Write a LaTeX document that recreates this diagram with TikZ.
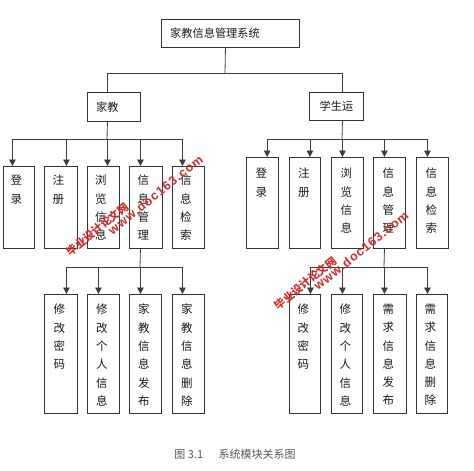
\documentclass[tikz,border=0pt]{standalone}
\usepackage{fontspec}
\setmainfont{Noto Sans CJK SC}
\newfontfamily\wmlatin{Liberation Sans}
\usetikzlibrary{arrows.meta}
\definecolor{boxc}{HTML}{333333}
\definecolor{linec}{HTML}{3C3C3C}
\definecolor{wmred}{HTML}{D42A2A}
\definecolor{capc}{HTML}{555555}
\newcommand{\mkbox}[5]{\node[box, minimum width={#4pt-#2pt}, minimum height={#5pt-#3pt}] (#1) at (#2,#3) {};}
\begin{document}
\begin{tikzpicture}[x=1pt,y=-1pt,
  box/.style={draw=boxc, line width=0.9pt, inner sep=0pt, anchor=north west},
  vt/.style={anchor=north, inner sep=0pt, align=center, font=\fontsize{11.5}{18.3}\selectfont, text=black!90},
  ht/.style={inner sep=0pt, font=\fontsize{11.2}{13}\selectfont, text=black!90},
  conn/.style={draw=linec, line width=0.8pt},
  arr/.style={conn, -{Triangle[length=6.5pt,width=6.5pt]}},
  wmcn/.style={text=wmred, font=\fontsize{10.8}{12}\selectfont\bfseries, rotate=39, inner sep=0pt},
  wmen/.style={text=wmred, font=\wmlatin\bfseries\fontsize{12.5}{14}\selectfont\addfontfeatures{LetterSpace=8}, rotate=39, inner sep=0pt},
]
\useasboundingbox[fill=white] (0,0) rectangle (474,471);

% ---- boxes
\mkbox{S}{161}{19}{299}{47}
\mkbox{JJ}{87}{92}{140}{121}
\mkbox{XS}{309}{92}{363}{120}

\mkbox{L1}{3}{166}{34}{248}
\mkbox{L2}{44}{166}{77}{248}
\mkbox{L3}{87}{166}{119}{248}
\mkbox{L4}{129}{166}{162}{248}
\mkbox{L5}{172}{166}{204}{248}

\mkbox{R1}{246}{157}{278}{248}
\mkbox{R2}{289}{157}{320}{248}
\mkbox{R3}{331}{157}{363}{248}
\mkbox{R4}{373}{157}{405}{248}
\mkbox{R5}{416}{157}{448}{248}

\mkbox{LB1}{44}{294}{77}{413}
\mkbox{LB2}{87}{294}{119}{413}
\mkbox{LB3}{129}{294}{161}{413}
\mkbox{LB4}{172}{294}{204}{413}

\mkbox{RB1}{289}{294}{320}{413}
\mkbox{RB2}{331}{294}{362}{413}
\mkbox{RB3}{373}{294}{406}{413}
\mkbox{RB4}{416}{294}{447}{413}

% ---- texts
\node[ht, anchor=west] (St) at ([xshift=9pt]S.west) {家教信息管理系统};
\node[ht, anchor=west] (JJt) at ([xshift=9pt]JJ.west) {家教};
\node[ht] (XSt) at (XS.center) {学生运};

\node[vt] (L1t) at ([xshift=-2.5pt,yshift=-9pt]L1.north) {登\\录};
\node[vt] (L2t) at ([xshift=-2.5pt,yshift=-9pt]L2.north) {注\\册};
\node[vt] (L3t) at ([xshift=-2.5pt,yshift=-9pt]L3.north) {浏\\览\\信\\息};
\node[vt] (L4t) at ([xshift=-2.5pt,yshift=-9pt]L4.north) {信\\息\\管\\理};
\node[vt] (L5t) at ([xshift=-2.5pt,yshift=-9pt]L5.north) {信\\息\\检\\索};

\node[vt] (R1t) at ([xshift=-1pt,yshift=-11pt]R1.north) {登\\录};
\node[vt] (R2t) at ([xshift=-1pt,yshift=-11pt]R2.north) {注\\册};
\node[vt] (R3t) at ([xshift=-1pt,yshift=-11pt]R3.north) {浏\\览\\信\\息};
\node[vt] (R4t) at ([xshift=-1pt,yshift=-11pt]R4.north) {信\\息\\管\\理};
\node[vt] (R5t) at ([xshift=-1pt,yshift=-11pt]R5.north) {信\\息\\检\\索};

\node[vt] (LB1t) at ([xshift=-1.5pt,yshift=-10pt]LB1.north) {修\\改\\密\\码};
\node[vt] (LB2t) at ([xshift=-1.5pt,yshift=-10pt]LB2.north) {修\\改\\个\\人\\信\\息};
\node[vt] (LB3t) at ([xshift=-1.5pt,yshift=-10pt]LB3.north) {家\\教\\信\\息\\发\\布};
\node[vt] (LB4t) at ([xshift=-1.5pt,yshift=-10pt]LB4.north) {家\\教\\信\\息\\删\\除};

\node[vt] (RB1t) at ([xshift=-1.5pt,yshift=-10pt]RB1.north) {修\\改\\密\\码};
\node[vt] (RB2t) at ([xshift=-1.5pt,yshift=-10pt]RB2.north) {修\\改\\个\\人\\信\\息};
\node[vt] (RB3t) at ([xshift=-1.5pt,yshift=-10pt]RB3.north) {需\\求\\信\\息\\发\\布};
\node[vt] (RB4t) at ([xshift=-1.5pt,yshift=-10pt]RB4.north) {需\\求\\信\\息\\删\\除};

% ---- connectors
\coordinate (topbus) at (225,73);
\draw[conn] ([xshift=-5pt]S.south) -- (topbus);
\draw[conn] (topbus) -| ([xshift=-6.5pt]JJ.north);
\draw[conn] (topbus) -| ([xshift=6pt]XS.north);

\coordinate (lbus) at (107,139);
\draw[conn] ([xshift=-6.5pt]JJ.south) -- (lbus);
\draw[arr] (lbus) -| ([xshift=-6.5pt]L1.north);
\draw[arr] (lbus) -| ([xshift=5.5pt]L2.north);
\draw[arr] (lbus) -| ([xshift=4pt]L3.north);
\draw[arr] (lbus) -| ([xshift=-5.5pt]L4.north);
\draw[arr] (lbus) -| ([xshift=-6pt]L5.north);

\coordinate (rbus) at (342,139);
\draw[conn] ([xshift=6pt]XS.south) -- (rbus);
\draw[arr] (rbus) -| ([xshift=4.7pt]R1.north);
\draw[arr] (rbus) -| ([xshift=5pt]R2.north);
\draw[arr] (rbus) -| ([xshift=-5pt]R3.north);
\draw[arr] (rbus) -| ([xshift=-5pt]R4.north);
\draw[arr] (rbus) -| ([xshift=-5pt]R5.north);

\coordinate (lbbus) at (140,267);
\draw[conn] ([xshift=-5.5pt]L4.south) -- (lbbus);
\draw[arr] (lbbus) -| ([xshift=5.5pt]LB1.north);
\draw[arr] (lbbus) -| ([xshift=-5pt]LB2.north);
\draw[arr] (lbbus) -| ([xshift=-5pt]LB3.north);
\draw[arr] (lbbus) -| ([xshift=-6pt]LB4.north);

\coordinate (rbbus) at (384,267);
\draw[conn] ([xshift=-5pt]R4.south) -- (rbbus);
\draw[arr] (rbbus) -| ([xshift=5.5pt]RB1.north);
\draw[arr] (rbbus) -| ([xshift=-4.5pt]RB2.north);
\draw[arr] (rbbus) -| ([xshift=-5.5pt]RB3.north);
\draw[arr] (rbbus) -| ([xshift=-4.5pt]RB4.north);

% ---- watermarks
\node[wmcn] (wm1) at (97.5,229) {毕业设计论文网};
\node[wmen] (wm2) at (155.5,195) {www.doc163.com};
\node[wmcn] (wm3) at (305.5,283) {毕业设计论文网};
\node[wmen] (wm4) at (361,250.5) {www.doc163.com};

% ---- caption
\node[inner sep=0pt, text=capc, font=\fontsize{11}{13}\selectfont] (cap) at (235,454) {图 3.1\hspace{1.4em}系统模块关系图};
\end{tikzpicture}
\end{document}
